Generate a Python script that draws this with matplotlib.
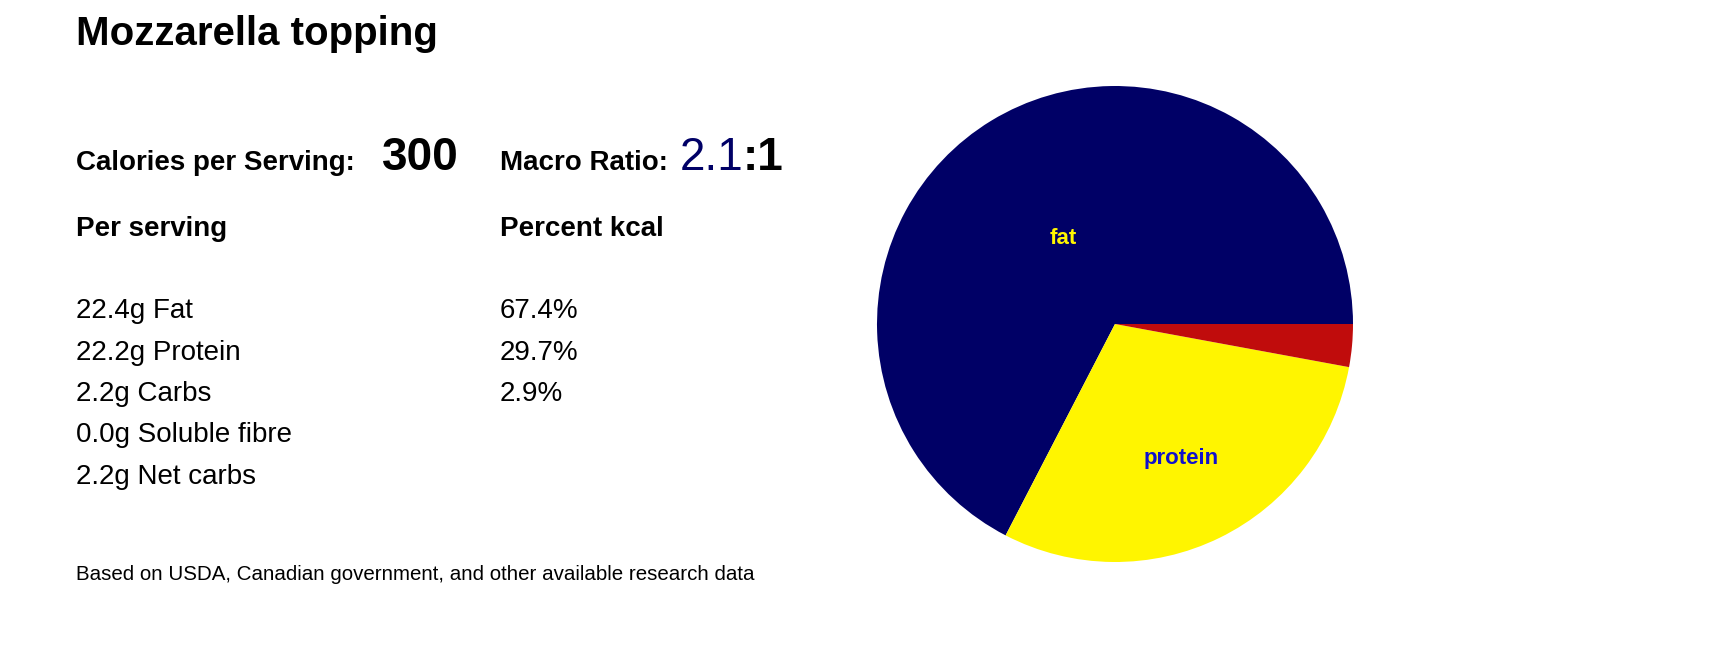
import matplotlib
matplotlib.use("Agg")
import matplotlib.pyplot as plt
import numpy as np

plt.rcParams['font.family'] = ['Liberation Sans', 'DejaVu Sans']

title = "Mozzarella topping"
calories = "300"
ratio_main = "2.1"
ratio_rest = ":1"
serving_rows = ["22.4g Fat", "22.2g Protein", "2.2g Carbs", "0.0g Soluble fibre", "2.2g Net carbs"]
percent_rows = ["67.4%", "29.7%", "2.9%"]
pie_labels = ["fat", "protein", ""]
pie_values = [67.4, 29.7, 2.9]
pie_colors = ["#000066", "#FFF500", "#C00C0C"]
label_colors = ["#FFF500", "#1010CC", "#FFFFFF"]
label_radius = [0.42, 0.63, 0.6]

W, H = 1716, 647
fig = plt.figure(figsize=(W / 100, H / 100), dpi=100)


def put(x, y, s, **kw):
    fig.text(x / W, 1 - y / H, s, va='baseline', **kw)


put(76, 45, title, fontsize=29, fontweight='bold')
put(76, 170, "Calories per Serving:", fontsize=20, fontweight='bold')
put(382, 170, calories, fontsize=33, fontweight='bold')
put(500, 170, "Macro Ratio:", fontsize=20, fontweight='bold')
put(680, 170, ratio_main, fontsize=33, color='#000066')
put(743, 170, ratio_rest, fontsize=33, fontweight='bold')
put(76, 236, "Per serving", fontsize=20, fontweight='bold')
put(500, 236, "Percent kcal", fontsize=20, fontweight='bold')
for i, s in enumerate(serving_rows):
    put(76, 318 + i * 41.5, s, fontsize=20)
for i, s in enumerate(percent_rows):
    put(500, 318 + i * 41.5, s, fontsize=20)
put(76, 580, "Based on USDA, Canadian government, and other available research data", fontsize=14.8)

ax = fig.add_axes([877 / W, 85 / H, 476 / W, 476 / H])
wedges, texts = ax.pie(pie_values, labels=pie_labels, colors=pie_colors, startangle=0,
                       counterclock=True, labeldistance=0.5,
                       textprops=dict(fontsize=16, fontweight='bold'))
for w, t, c, r in zip(wedges, texts, label_colors, label_radius):
    ang = np.deg2rad((w.theta1 + w.theta2) / 2)
    t.set_position((r * np.cos(ang), r * np.sin(ang)))
    t.set_color(c)
    t.set_ha('center')
    t.set_va('center')
ax.set_xlim(-1, 1)
ax.set_ylim(-1, 1)
ax.set_aspect('equal')

fig.savefig("out.png", dpi=100)
